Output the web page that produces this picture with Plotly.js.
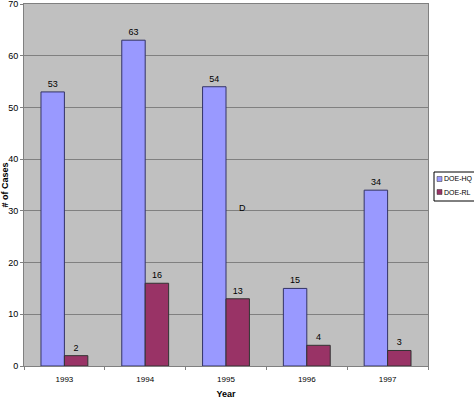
<!DOCTYPE html>
<html><head><meta charset="utf-8">
<script src="https://cdn.plot.ly/plotly-3.0.1.min.js"></script>
<style>html,body{margin:0;padding:0;background:#fff;}#chart{width:474px;height:399px;}</style>
</head><body><div id="chart"></div>
<script>
const years = ['1993','1994','1995','1996','1997'];
const hqCases = [53, 63, 54, 15, 34];
const rlCases = [2, 16, 13, 4, 3];
const seriesNames = ['DOE-HQ', 'DOE-RL'];
const seriesColors = ['#9999ff', '#993366'];
const seriesEdges = ['#333366', '#333333'];

const traces = [0,1].map(i => ({
  type:'bar', name:seriesNames[i], x:years, y:i===0?hqCases:rlCases,
  text:(i===0?hqCases:rlCases).map(String),
  textposition:'outside', cliponaxis:false,
  textfont:{size:9,color:'#000',family:'Arial, Liberation Sans'},
  marker:{color:seriesColors[i], line:{color:seriesEdges[i], width:1}},
  showlegend:false
}));

// manual compact legend (paper coords; plot spans 24..428 px horizontally, 4..366 vertically)
const pxX = px => (px - 24) / 404;
const pxY = py => (366 - py) / 362;
const shapes = [
  {type:'rect', xref:'paper', yref:'paper', x0:pxX(434), x1:pxX(480), y0:pxY(201), y1:pxY(172),
   fillcolor:'#fff', line:{color:'#000', width:1}, layer:'above'}
];
const annotations = [
  {x:2.2, y:30.6, xref:'x', yref:'y', text:'D', showarrow:false, font:{size:9}}
];
const rowY = [179, 192];
seriesNames.forEach((n, i) => {
  shapes.push({type:'rect', xref:'paper', yref:'paper', x0:pxX(437), x1:pxX(442),
    y0:pxY(rowY[i]+2.5), y1:pxY(rowY[i]-2.5), fillcolor:seriesColors[i],
    line:{color:'#333333', width:0.5}, layer:'above'});
  annotations.push({xref:'paper', yref:'paper', x:pxX(442), y:pxY(rowY[i]), xanchor:'left', yanchor:'middle',
    text:n, showarrow:false, font:{size:7, color:'#000'}});
});

const layout = {
  width:474, height:399,
  margin:{l:24, r:46, t:4, b:33, autoexpand:false},
  paper_bgcolor:'#fff', plot_bgcolor:'#c0c0c0',
  font:{family:'Arial, Liberation Sans, sans-serif', size:9, color:'#000'},
  barmode:'group', bargap:0.42, bargroupgap:0,
  showlegend:false,
  xaxis:{type:'category', tickson:'boundaries', ticks:'outside', ticklen:3, tickcolor:'#808080',
         showline:true, linecolor:'#808080', mirror:true, showgrid:false, ticklabelstandoff:5,
         tickfont:{size:8}, title:{text:'Year', font:{size:9, weight:'bold'}, standoff:13}},
  yaxis:{range:[0,70], dtick:10, ticks:'outside', ticklen:3, tickcolor:'#808080',
         showline:true, linecolor:'#808080', mirror:true, gridcolor:'#808080', gridwidth:1,
         zeroline:false, tickfont:{size:9}, ticklabeloverflow:'allow',
         title:{text:'# of Cases', font:{size:9, weight:'bold'}, standoff:0}},
  shapes:shapes,
  annotations:annotations
};
Plotly.newPlot('chart', traces, layout, {displayModeBar:false});
</script></body></html>
